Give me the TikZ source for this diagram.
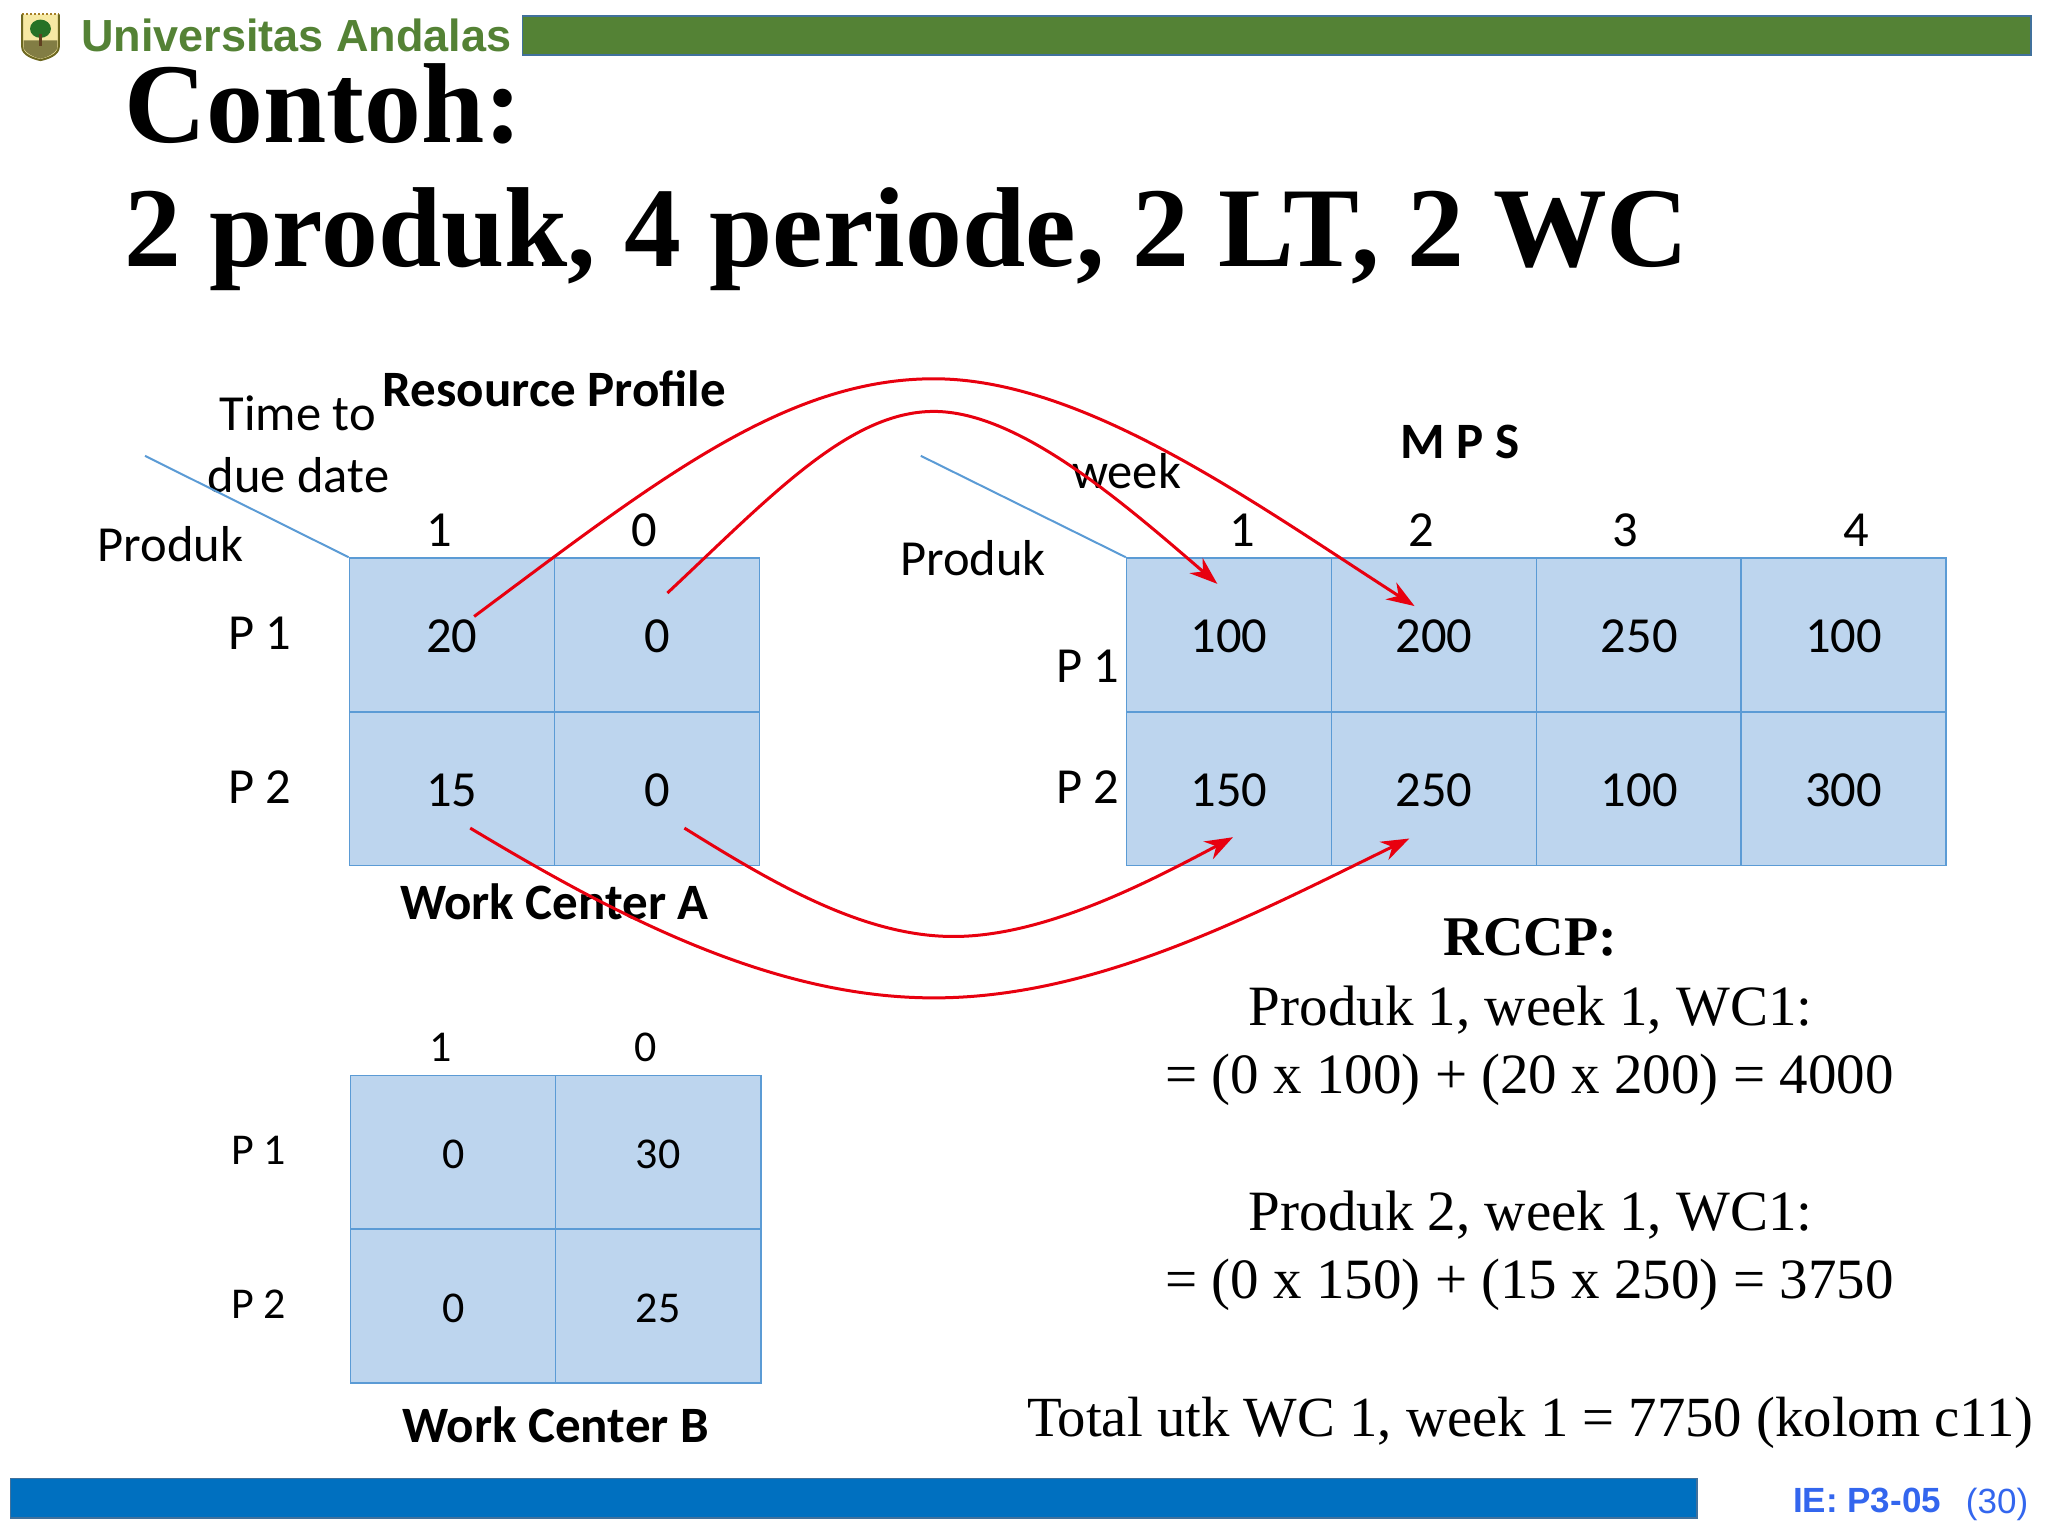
\documentclass[tikz,border=0pt]{standalone}
\usepackage{fontspec}
\setmainfont{Carlito}
\newfontfamily\serifF{Liberation Serif}
\newfontfamily\sansF{Liberation Sans}
\usetikzlibrary{arrows.meta}
\definecolor{cellfill}{HTML}{BDD5EE}
\definecolor{cellline}{HTML}{5B9BD5}
\definecolor{uagreen}{HTML}{548235}
\definecolor{barblue}{HTML}{0070C0}
\definecolor{barline}{HTML}{41719C}
\definecolor{ieblue}{HTML}{3366EE}
\definecolor{redline}{HTML}{E8000F}
\newcommand\fs[1]{\fontsize{#1pt}{#1pt}\selectfont}
\tikzset{
  x=1.30612pt,y=-1.30612pt,
  cell/.style={draw=cellline,fill=cellfill,line width=1.4pt,minimum width=157*1.30612pt,minimum height=117.6*1.30612pt,inner sep=0pt,font=\fs{50.5},text height=36pt,text depth=0pt},
  cellb/.style={cell,font=\fs{44},text height=33pt},
  lab/.style={inner sep=0pt,font=\fs{50.5},text=black},
  labb/.style={lab,font=\fs{44}},
  head/.style={inner sep=0pt,font=\fs{51}\bfseries},
  ser/.style={inner sep=0pt,font=\serifF\fs{57}},
  ttl/.style={inner sep=0pt,anchor=base west,font=\serifF\bfseries\fs{113.7}},
  conn/.style={draw=cellline,line width=2pt},
  rd/.style={draw=redline,line width=3pt,-{Stealth[length=28pt,width=20pt]}},
  bar/.style={draw=barline,line width=1.8pt},
}
\begin{document}
\begin{tikzpicture}
\useasboundingbox (0,0) rectangle (1568,1176);
% header
\node[bar,fill=uagreen,minimum width=1155*1.30612pt,minimum height=30*1.30612pt,inner sep=0pt] (topbar) at (977.5,27) {};
\node[inner sep=0pt,anchor=west,font=\sansF\bfseries\fs{45},text=uagreen] (uni) at (62,27) {Universitas Andalas};
% logo
\fill[yellow!30!white!85!brown] (17,11) -- (45,11) -- (45,36) .. controls (45,42) and (36,45) .. (31,46) .. controls (26,45) and (17,42) .. (17,36) -- cycle;
\draw[brown!60!olive,line width=2pt,dotted] (17,11) -- (45,11);
\draw[olive!70!black,line width=2pt] (45,11) -- (45,36) .. controls (45,42) and (36,45) .. (31,46) .. controls (26,45) and (17,42) .. (17,36) -- (17,11);
\fill[olive!60!black!80] (18,31) -- (44,31) -- (44,37) .. controls (42,41) and (36,44) .. (31,45) .. controls (26,44) and (20,41) .. (18,37) -- cycle;
\fill[green!35!black!85] (31,22) ellipse (8 and 7);
\fill[brown!50!black] (30,26) rectangle (32,35);
% title
\node[ttl] (t1) at (95,109) {Contoh:};
\node[ttl] (t2) at (95,204) {2 produk, 4 periode, 2 LT, 2 WC};
% Work center A
\node[head] (rp) at (424.5,298) {Resource Profile};
\node[lab] (ttd1) at (228,316.5) {Time to};
\node[lab] (ttd2) at (228.5,363.5) {due date};
\node[lab] (pa) at (130.5,416.5) {Produk};
\node[lab] (ca1) at (336,406) {1};
\node[lab] (ca0) at (493,406) {0};
\node[lab] (ra1) at (199,485) {P 1};
\node[lab] (ra2) at (199,603) {P 2};
\node[cell] (a11) at (346,486) {20};
\node[cell] (a12) at (503,486) {0};
\node[cell] (a21) at (346,604) {15};
\node[cell] (a22) at (503,604) {0};
\node[head] (wca) at (424.5,690.5) {Work Center A};
% MPS
\node[head] (mps) at (1118,338.5) {M P S};
\node[lab] (wk) at (862.5,361) {week};
\node[lab] (pm) at (745,427.5) {Produk};
\node[lab] (cm1) at (951,406) {1};
\node[lab] (cm2) at (1088,406) {2};
\node[lab] (cm3) at (1244,406) {3};
\node[lab] (cm4) at (1421,406) {4};
\node[lab] (rm1) at (833,510) {P 1};
\node[lab] (rm2) at (833,603) {P 2};
\node[cell] (m11) at (941,486) {100};
\node[cell] (m12) at (1098,486) {200};
\node[cell] (m13) at (1255,486) {250};
\node[cell] (m14) at (1411.5,486) {100};
\node[cell] (m21) at (941,604) {150};
\node[cell] (m22) at (1098,604) {250};
\node[cell] (m23) at (1255,604) {100};
\node[cell] (m24) at (1411.5,604) {300};
% Work center B
\node[labb] (cb1) at (337,802) {1};
\node[labb] (cb0) at (494,802) {0};
\node[labb] (rb1) at (198,881) {P 1};
\node[labb] (rb2) at (198,998.5) {P 2};
\node[cellb] (b11) at (347,882) {0};
\node[cellb] (b12) at (504,882) {30};
\node[cellb] (b21) at (347,1000) {0};
\node[cellb] (b22) at (504,1000) {25};
\node[head] (wcb) at (425.5,1091) {Work Center B};
% RCCP text
\node[ser,font=\serifF\bfseries\fs{56}] (rccp) at (1171.5,718) {RCCP:};
\node[ser] (r1) at (1172,773) {Produk 1, week 1, WC1:};
\node[ser] (r2) at (1171,827) {= (0 x 100) + (20 x 200) = 4000};
\node[ser] (r3) at (1172,930) {Produk 2, week 1, WC1:};
\node[ser] (r4) at (1171,984) {= (0 x 150) + (15 x 250) = 3750};
\node[ser,font=\serifF\fs{56.75}] (r5) at (1171.5,1089) {Total utk WC 1, week 1 = 7750 (kolom c11)};
% footer
\node[bar,fill=barblue,minimum width=1291*1.30612pt,minimum height=30*1.30612pt,inner sep=0pt] (botbar) at (653.5,1147) {};
\node[inner sep=0pt,font=\sansF\bfseries\fs{35},text=ieblue] (ie) at (1429.5,1149) {IE: P3-05};
\node[inner sep=0pt,font=\sansF\fs{35},text=ieblue] (pg) at (1529,1151.5) {(30)};
% connectors
\coordinate (la) at (111,349);
\coordinate (lm) at (705,349);
\draw[conn] (la) -- (a11.north west);
\draw[conn] (lm) -- (m11.north west);
\coordinate (s1) at (363,472);
\coordinate (s2) at (511,454);
\coordinate (s3) at (360,634);
\coordinate (s4) at (524,634);
\coordinate (e1) at (1083,464);
\coordinate (e2) at (932,447);
\coordinate (e3) at (1079,642);
\coordinate (e4) at (944,641);
\draw[rd] (s1) .. controls (500,370) and (600,290) .. (715,290) .. controls (830,290) and (960,385) .. (e1);
\draw[rd] (s2) .. controls (590,380) and (650,315) .. (715,315) .. controls (780,315) and (860,385) .. (e2);
\draw[rd] (s3) .. controls (470,700) and (590,764) .. (715,764) .. controls (840,764) and (960,700) .. (e3);
\draw[rd] (s4) .. controls (590,675) and (660,717) .. (730,717) .. controls (800,717) and (880,675) .. (e4);
\end{tikzpicture}
\end{document}
